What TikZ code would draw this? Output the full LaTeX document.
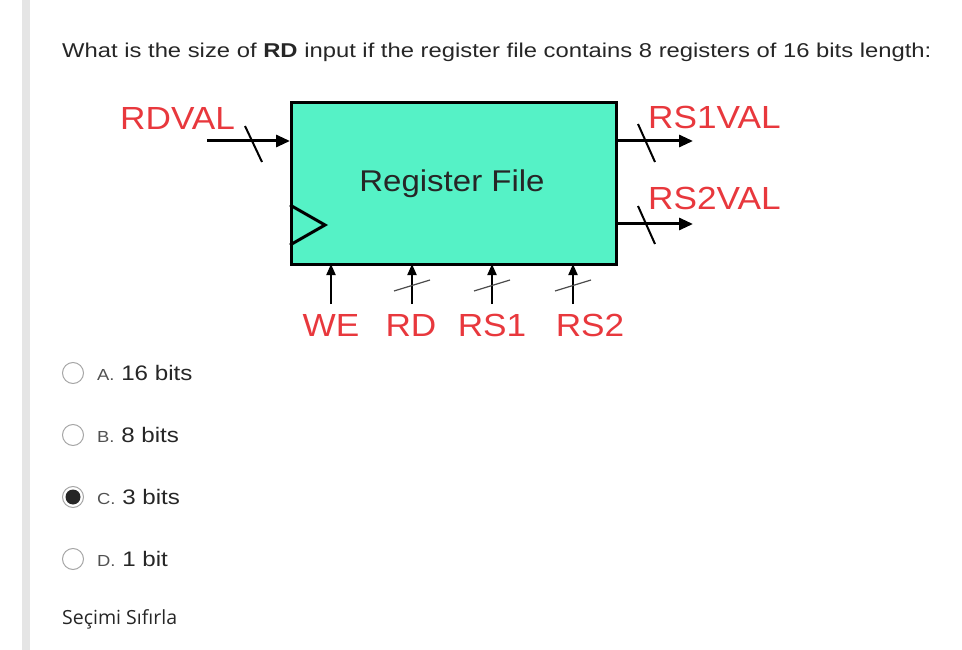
\documentclass[tikz,border=0pt]{standalone}
\usepackage{fontspec}
\setmainfont{Liberation Sans}
\newfontfamily\qfont[FakeStretch=1.19]{Liberation Sans}
\newfontfamily\lfont[FakeStretch=1.1]{Liberation Sans}
\newfontfamily\ofont[FakeStretch=1.15]{Liberation Sans}
\newfontfamily\osans{Open Sans}
\usetikzlibrary{arrows.meta}
\definecolor{rf}{HTML}{55F2C6}
\definecolor{lbl}{HTML}{E8383D}
\definecolor{txt}{HTML}{262626}
\begin{document}
\begin{tikzpicture}[x=1pt,y=-1pt,
  sig/.style={line width=3pt,-{Triangle[length=14pt,width=12pt]}},
  bus/.style={line width=2pt},
  tick/.style={line width=1.2pt,gray!60!black},
  lab/.style={text=lbl,font=\lfont\fontsize{32}{32}\selectfont,inner sep=0pt},
  opt/.style={anchor=west,text=txt,inner sep=0pt,font=\ofont\fontsize{21}{21}\selectfont},
  radio/.style={circle,draw=gray!70,line width=1pt,minimum size=21pt,inner sep=0pt}]
\useasboundingbox (0,0) rectangle (962,650);
\fill[gray!20] (22,0) rectangle (30,650);
\node[anchor=west,text=txt,inner sep=0pt,font=\qfont\fontsize{20}{20}\selectfont] (q) at (62,52)
  {What is the size of \textbf{RD} input if the register file contains 8 registers of 16 bits length:};
% register file
\node[draw,line width=3pt,fill=rf,minimum width=325pt,minimum height=162pt,anchor=north west] (rf) at (290,101) {};
\node[font=\lfont\fontsize{30}{30}\selectfont,text=txt,inner sep=0pt] (rft) at (452,184) {Register File};
\draw[line width=3pt] (rf.west |- 0,205) -- (325,225) -- (rf.west |- 0,245);
% RDVAL
\node[lab,anchor=west] (rdval) at (120,118) {RDVAL};
\coordinate (rdin) at (207,141);
\draw[sig] (rdin) -- (rf.west |- rdin);
\draw[bus] (245,126) -- (262,162);
% outputs
\node[lab,anchor=west] (rs1v) at (648,117) {RS1VAL};
\node[lab,anchor=west] (rs2v) at (648,198) {RS2VAL};
\coordinate (o1) at (693,141);
\coordinate (o2) at (693,224);
\draw[sig] (rf.east |- o1) -- (o1);
\draw[sig] (rf.east |- o2) -- (o2);
\draw[bus] (638,124) -- (655,162);
\draw[bus] (638,206) -- (655,244);
% bottom inputs
\node[lab] (we) at (331,325) {WE};
\node[lab] (rd) at (411,325) {RD};
\node[lab] (rs1) at (492,325) {RS1};
\node[lab] (rs2) at (590,325) {RS2};
\foreach \n/\x in {we/331,rd/412,rs1/492,rs2/573}{
  \draw[line width=2pt,-{Triangle[length=11pt,width=9pt]}] (\x,304) -- (\x,264);
}
\foreach \x in {412,492,573}{
  \draw[tick] (\x-18,291) -- (\x+18,280);
}
% options
\foreach \y/\l/\t [count=\i] in {373/A./16 bits,435/B./8 bits,497/C./3 bits,559/D./1 bit}{
  \node[radio] (r\i) at (73,\y) {};
  \node[opt] (o\i) at (97,\y) {{\fontsize{16}{16}\selectfont\color{txt!80}\l}~\t};
}
\fill[txt] (r3) circle (7.5pt);
\node[anchor=west,text=txt,inner sep=0pt,font=\osans\fontsize{19.5}{19.5}\selectfont] (reset) at (62,619) {Seçimi Sıfırla};
\end{tikzpicture}
\end{document}
